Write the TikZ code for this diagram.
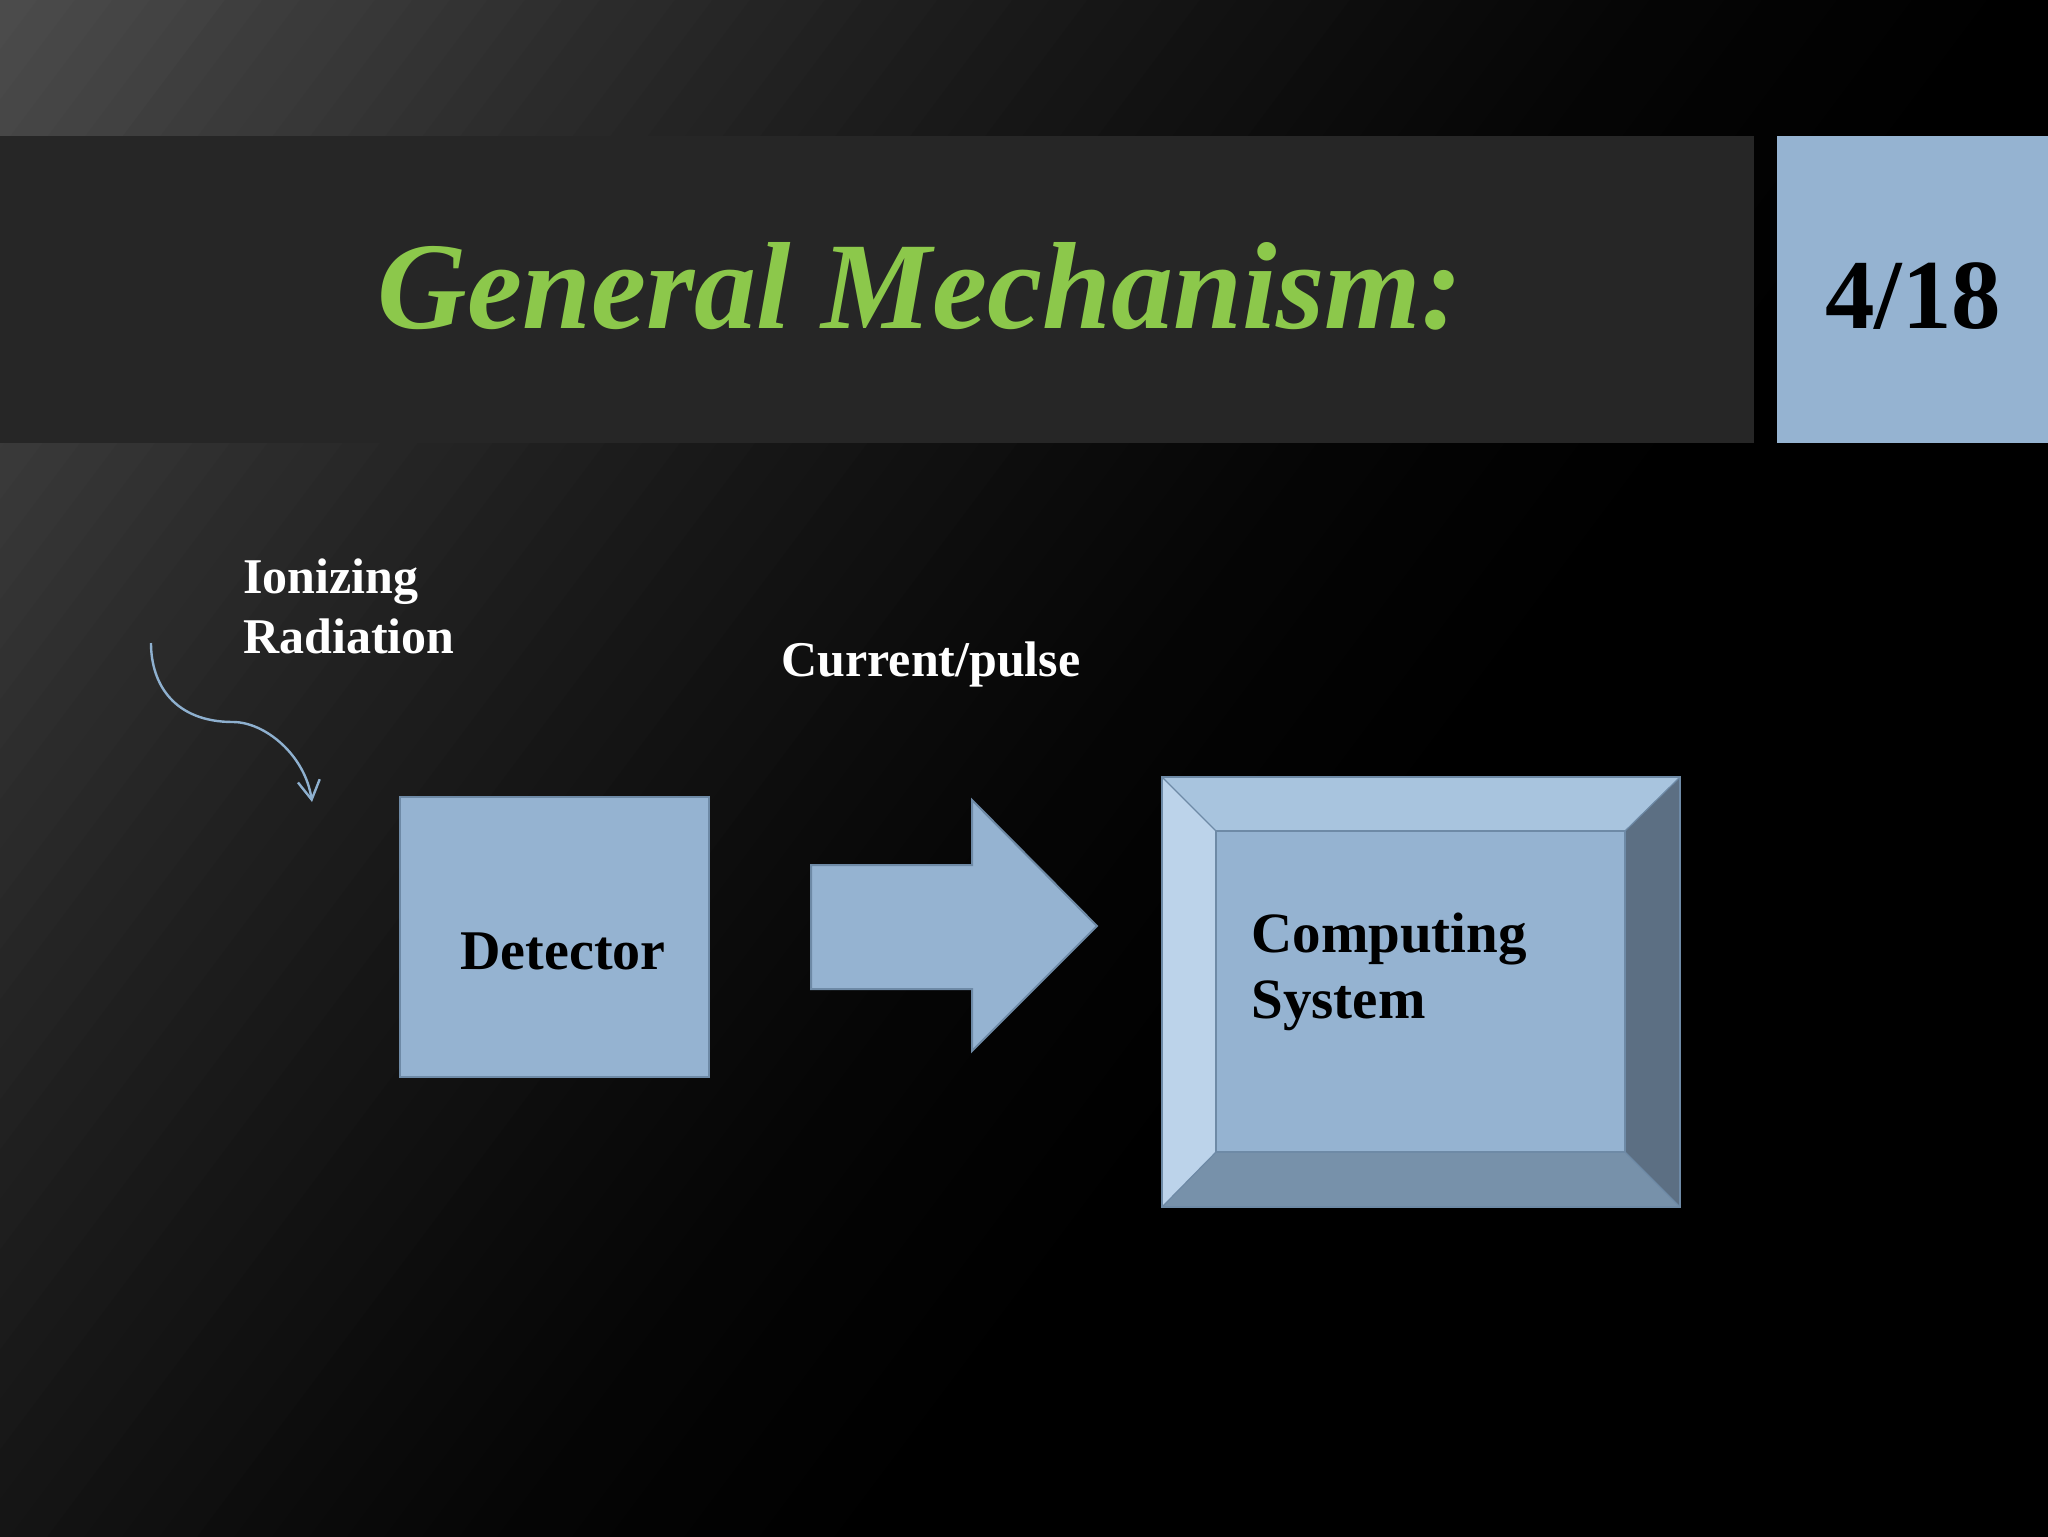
\documentclass[tikz,border=0pt]{standalone}
\usepackage{fontspec}
\setmainfont{Liberation Serif}
\usetikzlibrary{arrows.meta}
\definecolor{bandgray}{HTML}{262626}
\definecolor{titlegreen}{HTML}{8CC84B}
\definecolor{boxblue}{HTML}{95B3D1}
\definecolor{boxedge}{HTML}{6E8AA6}
\definecolor{bevtop}{HTML}{A8C4DE}
\definecolor{bevleft}{HTML}{BCD3EA}
\definecolor{bevright}{HTML}{5C6F83}
\definecolor{bevbot}{HTML}{7791AA}
\definecolor{raycol}{HTML}{8EB0CF}
\begin{document}
\begin{tikzpicture}[x=0.5pt,y=-0.5pt,
  whitetext/.style={text=white, inner sep=0pt, font=\fontsize{25}{30}\selectfont\bfseries},
  blacktext/.style={text=black, inner sep=0pt, font=\fontsize{28.5}{33}\selectfont\bfseries},
  bluebox/.style={fill=boxblue, draw=boxedge, line width=1pt},
  bevelface/.style={fill=boxblue, draw=boxedge, line width=0.6pt, inner sep=0pt},
  raystyle/.style={draw=raycol, line width=1.2pt, -{Straight Barb[length=9.5pt,width=11pt]}}]
\useasboundingbox (0,0) rectangle (2048,1536);
% background
\fill[black] (-20,-20) rectangle (2068,1556);
\begin{scope}
\clip (-20,-20) rectangle (2068,1556);
\foreach \i in {0,...,56} {
  \pgfmathsetmacro{\ta}{\i*30-(\i==0)*40}
  \pgfmathsetmacro{\tb}{\i*30+32}
  \pgfmathsetmacro{\tm}{\i*30+15}
  \pgfmathsetmacro{\g}{max(0.001,1-\tm/1650)}
  \pgfmathsetmacro{\p}{30*\g^1.6}
  \fill[white!\p!black] ({0.8*\ta+1560},{0.6*\ta-2080}) -- ({0.8*\ta-1560},{0.6*\ta+2080}) -- ({0.8*\tb-1560},{0.6*\tb+2080}) -- ({0.8*\tb+1560},{0.6*\tb-2080}) -- cycle;
}
\end{scope}
% title band
\fill[bandgray] (-20,136) rectangle (1754,443);
\fill[boxblue] (1777,136) rectangle (2068,443);
\node[anchor=base, inner sep=0pt, text=titlegreen, font=\fontsize{62}{70}\selectfont\bfseries\itshape] (title) at (920,328) {General Mechanism:};
\node[anchor=base, inner sep=0pt, text=black, font=\fontsize{49.5}{55}\selectfont\bfseries] (pagenum) at (1913,328) {4/18};
% labels
\node[whitetext, anchor=base west] (ion) at (243,593) {\begin{tabular}[t]{@{}l@{}}Ionizing\\Radiation\end{tabular}};
\node[whitetext, anchor=base west] (cur) at (781,676) {Current/pulse};
% radiation arrow
\coordinate (rs) at (151,643);
\coordinate (rm) at (233,722);
\coordinate (re) at (312,802);
\draw[raystyle] (rs) .. controls (151,685) and (175,722) .. (rm) .. controls (265,722) and (305,755) .. (re);
% detector
\node[bluebox, minimum width=154.5pt, minimum height=140pt, inner sep=0pt] (det) at (554.5,937) {};
\node[blacktext, anchor=base, font=\fontsize{28}{33}\selectfont\bfseries] (dettext) at (563,969) {Detector};
% block arrow
\filldraw[bluebox] (811,865) -- (972,865) -- (972,800) -- (1097,926) -- (972,1051) -- (972,989) -- (811,989) -- cycle;
% computing system bevel
\fill[bevtop] (1162,777) -- (1680,777) -- (1625,831) -- (1216,831) -- cycle;
\fill[bevleft] (1162,777) -- (1216,831) -- (1216,1152) -- (1162,1207) -- cycle;
\fill[bevright] (1680,777) -- (1680,1207) -- (1625,1152) -- (1625,831) -- cycle;
\fill[bevbot] (1162,1207) -- (1680,1207) -- (1625,1152) -- (1216,1152) -- cycle;
\draw[boxedge, line width=0.6pt] (1162,777) -- (1216,831) (1680,777) -- (1625,831) (1162,1207) -- (1216,1152) (1680,1207) -- (1625,1152);
\node[bevelface, minimum width=204.5pt, minimum height=160.5pt] (comp) at (1420.5,991.5) {};
\draw[boxedge, line width=1pt] (1162,777) rectangle (1680,1207);
\node[blacktext, anchor=base west] (comptext) at (1251,952) {\begin{tabular}[t]{@{}l@{}}Computing\\System\end{tabular}};
\end{tikzpicture}
\end{document}
